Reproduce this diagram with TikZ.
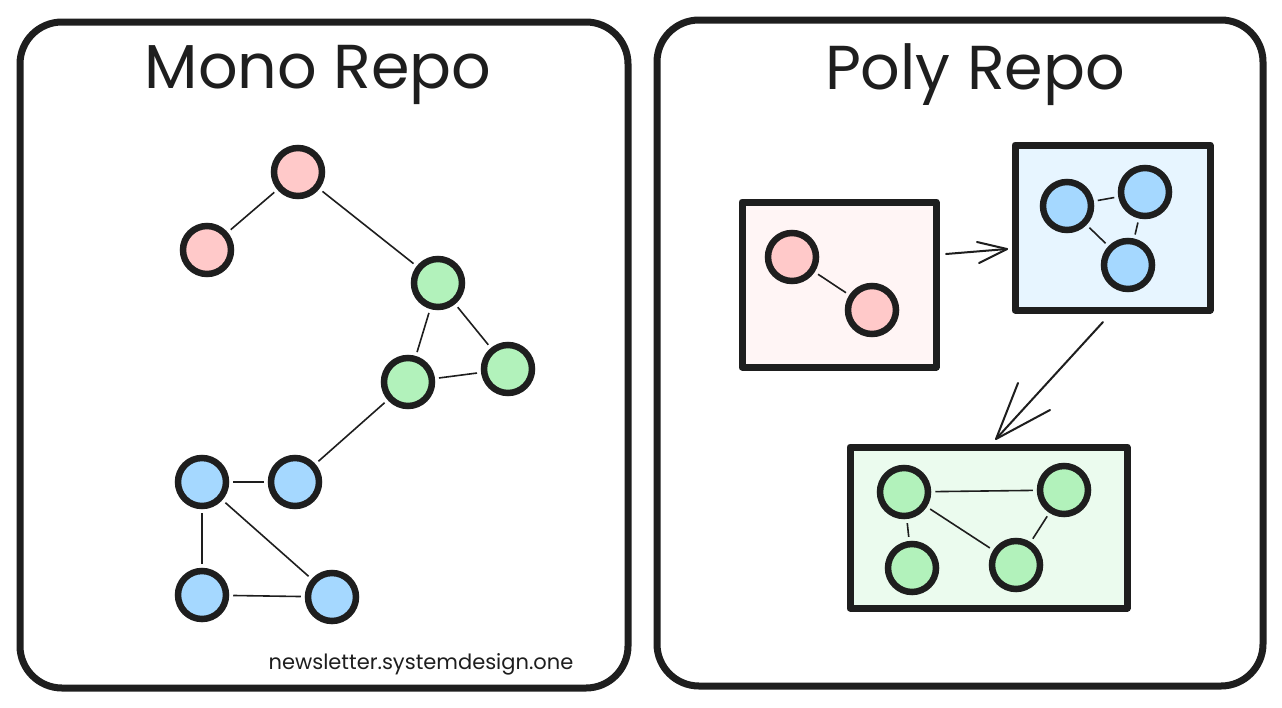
\documentclass[tikz,border=0pt]{standalone}
\usepackage{fontspec}
\setmainfont{Poppins}
\usetikzlibrary{arrows.meta}
\definecolor{ink}{HTML}{1E1E1E}
\definecolor{pinkf}{HTML}{FFC9C9}
\definecolor{greenf}{HTML}{B2F2BB}
\definecolor{bluef}{HTML}{A5D8FF}
\definecolor{pinkbg}{HTML}{FFF5F5}
\definecolor{bluebg}{HTML}{E7F5FF}
\definecolor{greenbg}{HTML}{EBFBEE}
\tikzset{
  panel/.style={draw=ink, line width=7pt, rounded corners=42pt, line join=round},
  repobox/.style={draw=ink, line width=7pt, line join=round, inner sep=0pt},
  dot/.style={circle, draw=ink, line width=6.5pt, minimum size=48pt, inner sep=0pt},
  pk/.style={dot, fill=pinkf},
  gn/.style={dot, fill=greenf},
  bl/.style={dot, fill=bluef},
  link/.style={draw=ink, line width=1.6pt, shorten <=4pt, shorten >=4pt},
  flow/.style={draw=ink, line width=2pt, line cap=round},
  title/.style={font=\fontsize{62}{62}\selectfont, text=ink},
}
\begin{document}
\begin{tikzpicture}[x=1pt,y=-1pt]
\useasboundingbox (0,0) rectangle (1282,707);
\fill[white] (0,0) rectangle (1282,707);
% panels
\draw[panel] (20,22) rectangle (628,688);
\draw[panel] (657,20) rectangle (1263,686);
\node[title] (t1) at (318,75) {Mono Repo};
\node[title] (t2) at (975,75) {Poly Repo};
% mono repo graph
\node[pk] (p1) at (298,172) {};
\node[pk] (p2) at (207,250) {};
\node[gn] (g1) at (438,283) {};
\node[gn] (g2) at (408,382) {};
\node[gn] (g3) at (508,369) {};
\node[bl] (b1) at (202,482) {};
\node[bl] (b2) at (295,482) {};
\node[bl] (b3) at (202,595) {};
\node[bl] (b4) at (332,597) {};
\draw[link] (p1) -- (p2);
\draw[link] (p1) -- (g1);
\draw[link] (g1) -- (g2);
\draw[link] (g1) -- (g3);
\draw[link] (g2) -- (g3);
\draw[link] (g2) -- (b2);
\draw[link] (b1) -- (b2);
\draw[link] (b1) -- (b3);
\draw[link] (b1) -- (b4);
\draw[link] (b3) -- (b4);
% poly repo boxes
\node[repobox, fill=pinkbg, minimum width=194pt, minimum height=165pt] (PB) at (839,284.5) {};
\node[repobox, fill=bluebg, minimum width=195pt, minimum height=165pt] (BB) at (1112.5,227.5) {};
\node[repobox, fill=greenbg, minimum width=277pt, minimum height=161pt] (GB) at (988.5,527.5) {};
% pink repo
\node[pk] (q1) at (792,257) {};
\node[pk] (q2) at (872,310) {};
\draw[link] (q1) -- (q2);
% blue repo
\node[bl] (c1) at (1067,206) {};
\node[bl] (c2) at (1145,192) {};
\node[bl] (c3) at (1128,265) {};
\draw[link] (c1) -- (c2);
\draw[link] (c1) -- (c3);
\draw[link] (c2) -- (c3);
% green repo
\node[gn] (h1) at (904,492) {};
\node[gn] (h2) at (1064,490) {};
\node[gn] (h3) at (912,568) {};
\node[gn] (h4) at (1016,565) {};
\draw[link] (h1) -- (h2);
\draw[link] (h1) -- (h3);
\draw[link] (h1) -- (h4);
\draw[link] (h2) -- (h4);
% arrows (open hand-drawn barbs)
\coordinate (a1s) at ([xshift=6.5pt,yshift=30.5pt]PB.east);
\coordinate (a1e) at ([xshift=-4.5pt,yshift=-21.5pt]BB.west);
\draw[flow] (a1s) -- (a1e);
\draw[flow] (a1e) -- ++(-30,-7) (a1e) -- ++(-28,14);
\coordinate (a2s) at ([xshift=-9.5pt,yshift=-8.5pt]BB.south);
\coordinate (a2e) at ([xshift=7.5pt,yshift=4.5pt]GB.north);
\draw[flow] (a2s) -- (a2e);
\draw[flow] (a2e) -- ++(22,-56) (a2e) -- ++(54,-29);
% watermark
\node[font=\fontsize{21}{21}\selectfont, text=ink] (wm) at (421,664) {newsletter.systemdesign.one};
\end{tikzpicture}
\end{document}
